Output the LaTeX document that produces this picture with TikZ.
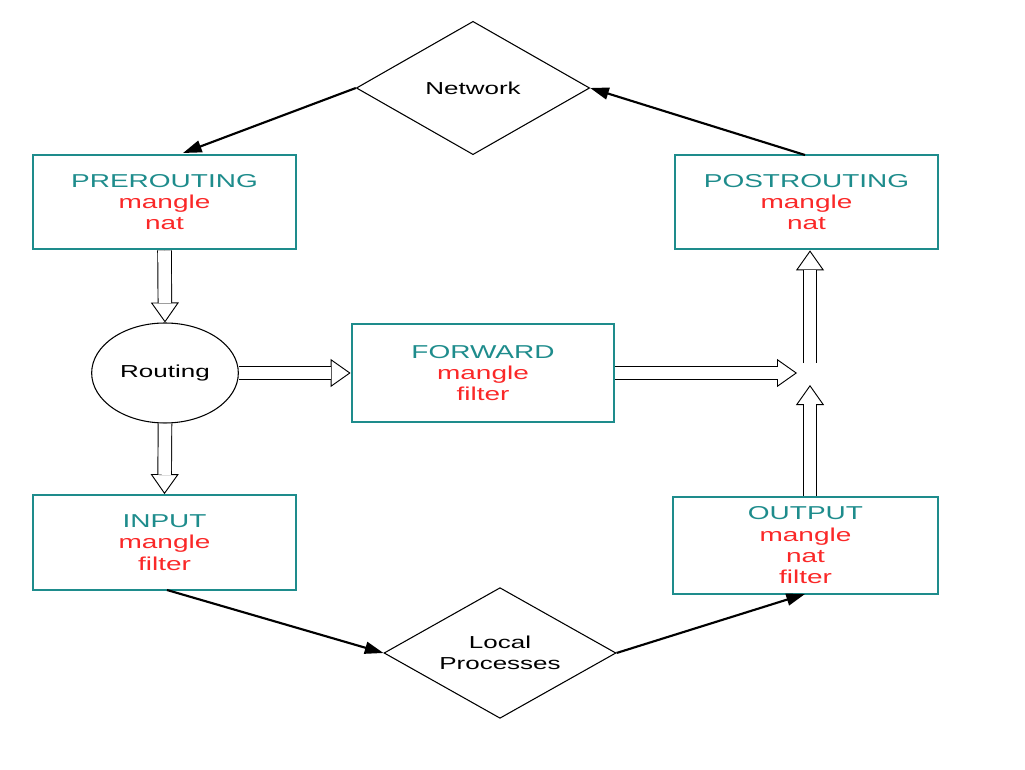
\documentclass[tikz,border=0pt]{standalone}
\usepackage{fontspec}
\usepackage{graphicx}
\setmainfont{Liberation Sans}
\usetikzlibrary{shapes.geometric,arrows.meta}
\definecolor{tealc}{RGB}{30,140,140}
\definecolor{redc}{RGB}{250,40,40}
\newcommand\sx[1]{\scalebox{1.5}[1]{#1}}
\newcommand\tl[1]{\textcolor{tealc}{\sx{#1}}}
\newcommand\rl[1]{\textcolor{redc}{\sx{#1}}}
\begin{document}
\begin{tikzpicture}[x=0.75pt,y=-0.75pt,
  box/.style={draw=tealc,line width=1.6pt,minimum width=197pt,minimum height=71pt,align=center,font=\fontsize{14}{16}\selectfont,inner sep=0pt},
  dia/.style={diamond,draw,line width=0.8pt,aspect=1.75,inner sep=0pt,align=center,font=\fontsize{13}{16}\selectfont},
  arr/.style={line width=1.6pt,-{Triangle[length=14pt,width=9pt]}},
  head/.style={line width=0.7pt,-{Triangle[open,length=15pt,width=21pt]}},
  shaft/.style={line width=0.7pt,double=white,double distance=9.5pt,shorten >=14.5pt}]
\useasboundingbox (0,0) rectangle (1025,770);
\node[dia,minimum width=175pt,minimum height=100pt] (net) at (473,88) {\sx{Network}};
\node[dia,minimum width=174pt,minimum height=98pt] (lp) at (500,653) {\sx{Local}\\\sx{Processes}};
\node[box] (pre) at (164.5,202) {\tl{PREROUTING}\\\rl{mangle}\\\rl{nat}};
\node[box] (post) at (806.5,202) {\tl{POSTROUTING}\\\rl{mangle}\\\rl{nat}};
\node[box,minimum height=73pt] (fwd) at (483,373) {\tl{FORWARD}\\\rl{mangle}\\\rl{filter}};
\node[box] (in) at (164.5,542.5) {\tl{INPUT}\\\rl{mangle}\\\rl{filter}};
\node[box,minimum width=199pt,minimum height=73pt] (out) at (805.5,545.5) {\tl{OUTPUT}\\\rl{mangle}\\\rl{nat}\\\rl{filter}};
\node[ellipse,draw,line width=0.8pt,minimum width=110pt,minimum height=75pt,font=\fontsize{13}{16}\selectfont] (rt) at (165,373) {\sx{Routing}};
\coordinate (m1) at (797,373);
\coordinate (m2) at (810,385);
\coordinate (m3) at (810,363);
\draw[arr] (net.west) -- (183,153);
\draw[arr] (805,155) -- (net.east);
\draw[arr] (167,590) -- (lp.west);
\draw[arr] (lp.east) -- (805,594);
\foreach \a/\b in {{pre.south}/{rt.north},{rt.south}/{in.north},{rt.east}/{fwd.west},{fwd.east}/m1,{out.north-|m2}/m2,m3/{post.south-|m3}}{
  \draw[head] (\a) -- (\b);
  \draw[shaft] (\a) -- (\b);
}
\end{tikzpicture}
\end{document}
